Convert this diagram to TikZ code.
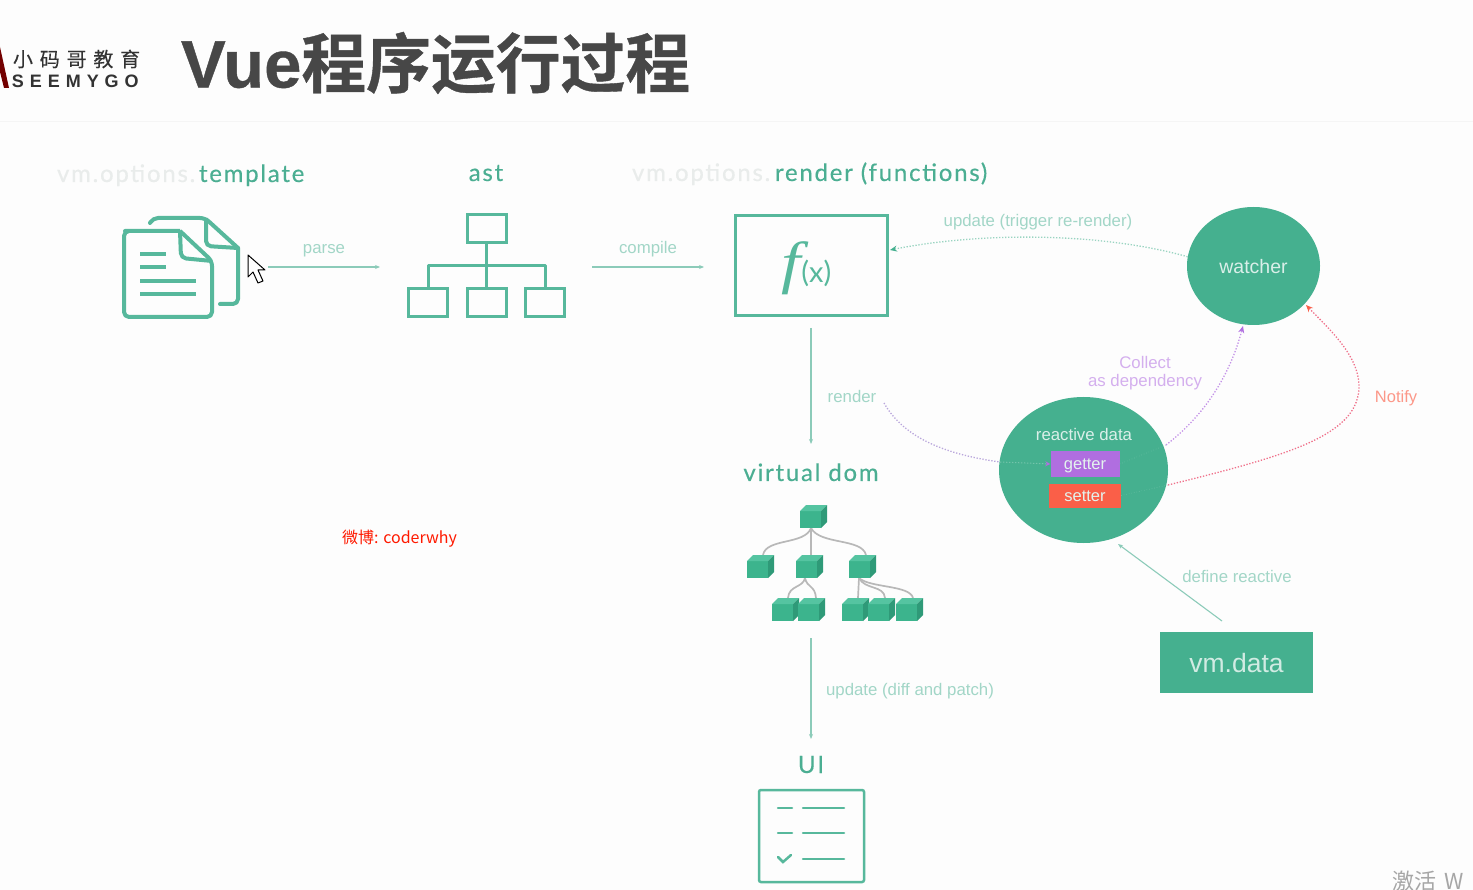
\documentclass[tikz,border=0pt]{standalone}
\usepackage{fontspec}
\setmainfont{Liberation Sans}
\newfontfamily\cjk{Noto Sans CJK SC}
\newfontfamily\cjkb[FakeBold=0.6]{Noto Sans CJK SC Bold}
\newfontfamily\titlefont[FakeBold=0.6]{Liberation Sans Bold}
\newfontfamily\cjkspaced[LetterSpace=34,FakeBold=0.3]{Noto Sans CJK SC}
\newfontfamily\headfont[LetterSpace=7.3,FakeBold=0.35]{Lato}
\newfontfamily\logofont[LetterSpace=33]{Liberation Sans}
\newfontfamily\fxserif{Liberation Serif Italic}
\newfontfamily\fxsans{Lato}
\usetikzlibrary{arrows.meta,shapes.geometric}
\definecolor{teal1}{HTML}{45B08F}
\definecolor{iconc}{HTML}{57B89C}
\definecolor{headc}{HTML}{4BAE92}
\definecolor{labc}{HTML}{A2D6C7}
\definecolor{arrc}{HTML}{8CCBB9}
\definecolor{ghost}{HTML}{E9ECEB}
\definecolor{purp}{HTML}{B06EE0}
\definecolor{coral}{HTML}{FA5F48}
\definecolor{pinkred}{HTML}{F0708A}
\definecolor{lav}{HTML}{B9A6DC}
\definecolor{cubef}{HTML}{3CB48D}
\definecolor{cubet}{HTML}{55C4A1}
\definecolor{cubes}{HTML}{2F9A78}
\definecolor{paper}{HTML}{FDFDFD}
\tikzset{
  x=1pt,y=-1pt,
  txt/.style={inner sep=0pt,outer sep=0pt},
  lab/.style={txt,text=labc,font=\fontsize{16.8}{20}\selectfont},
  head/.style={txt,text=headc,font=\fontsize{24}{26}\headfont},
  ghosted/.style={txt,text=ghost,font=\fontsize{24}{26}\headfont},
  flow/.style={draw=arrc,line width=1.1pt,-{Stealth[length=5pt,width=4pt]}},
  icon/.style={draw=iconc,line width=3pt,line join=round},
  docline/.style={draw=iconc,line width=4pt,line join=round},
  thin icon/.style={draw=iconc,line width=2.5pt,line cap=round},
  astbox/.style={draw=iconc,line width=3pt,minimum width=39pt,minimum height=28pt,inner sep=0pt},
  dot/.style={line width=1.3pt,dash pattern=on 1.3pt off 1.7pt},
  blob/.style={ellipse,fill=teal1,inner sep=0pt,text=white!80!teal1},
  cubebox/.style={fill=cubef,minimum width=21pt,minimum height=17pt,inner sep=0pt,outer sep=0pt},
  treeline/.style={draw=black!28,line width=1.7pt},
  tag/.style={inner sep=0pt,text=white!85!teal1,text height=13pt,text depth=2pt,font=\fontsize{16.5}{18}\selectfont}
}
\newcommand{\mycube}[3]{%
  \node[cubebox] (#1) at (#2+10.5,#3+8.5) {};
  \fill[cubet] (#1.north west) -- ++(6,-6) -- ++(21,0) -- (#1.north east) -- cycle;
  \fill[cubes] (#1.north east) -- ++(6,-6) -- ++(0,17) -- (#1.south east) -- cycle;
}
\begin{document}
\begin{tikzpicture}
\useasboundingbox (0,0) rectangle (1473,890);
\clip (0,0) rectangle (1473,890);
\fill[paper] (0,0) rectangle (1473,890);
\coordinate (hl) at (0,122); \coordinate (hr) at (1473,122);
\draw[black!4,line width=1pt] (hl) -- (hr);
% logo
\fill[red!45!black] (0,47) -- (9,88) -- (4,88) -- (0,72) -- cycle;
\node[txt,anchor=west,text=black!80] (logocn) at (13,59) {\fontsize{20}{22}\cjkspaced 小码哥教育};
\node[txt,anchor=west,text=black!80] (logoen) at (12,81) {\fontsize{18}{22}\logofont\bfseries SEEMYGO};
% title
\node[txt,anchor=west,text=black!72] (title) at (181,63) {\fontsize{67}{70}\titlefont Vue\fontsize{64.8}{70}\cjkb 程序运行过程};
% headings
\node[ghosted,anchor=base west] (g1) at (57,182) {vm.options.};
\node[head,anchor=base west] (h1) at (199,182) {template};
\node[head,anchor=base] (h2) at (486,181) {ast};
\node[ghosted,anchor=base west] (g3) at (632,181) {vm.options.};
\node[head,anchor=base west] (h3) at (775,181) {render (functions)};
\node[head,anchor=base] (h4) at (811,481) {virtual dom};
\node[head,anchor=base] (h5) at (811,773) {UI};
% document icon
\node[minimum width=116pt,minimum height=102pt,inner sep=0pt] (doc) at (181,268) {};
\draw[docline,rounded corners=5pt] (180,231) -- (130,231) -- (124,231) -- (124,317) -- (212,317) -- (212,261) [sharp corners] -- (180,231);
\draw[docline,rounded corners=5pt] (180,231) -- (181,258) -- (212,261);
\draw[docline,line cap=round,rounded corners=5pt] (150,223) -- (153,218) -- (205,218) [sharp corners] -- (238,248);
\draw[docline,line cap=round,rounded corners=5pt] (238,248) -- (238,304) -- (220,304);
\draw[docline,rounded corners=5pt] (206,218) -- (206,246) -- (238,248);
\foreach \a/\b/\c in {140/166/254,140/166/267,140/196/281,140/196/294}{\draw[docline] (\a,\c) -- (\b,\c);}
% cursor
\draw[fill=white,draw=black,line width=1pt,line join=round] (248,255) -- (248,277) -- (253,272) -- (258,283) -- (263,281) -- (258,270) -- (265,270) -- cycle;
% ast
\node[astbox] (a0) at (486.5,229) {};
\node[astbox] (a1) at (428,303) {};
\node[astbox] (a2) at (486.5,303) {};
\node[astbox] (a3) at (545,303) {};
\coordinate (bar) at (486.5,266);
\draw[icon] (a0.south) -- (a2.north);
\draw[icon] (a1.north) |- (bar) -| (a3.north);
% f box
\node[draw=iconc,line width=3pt,minimum width=152pt,minimum height=100pt,inner sep=0pt] (fbox) at (811,266) {};
\node[txt,text=iconc,anchor=west] (fx) at (781,268) {\fontsize{58}{58}\fxserif\scalebox{1.2}[1]{f}\kern1pt\fontsize{29}{29}\fxsans(x)};
% watcher
\node[blob,minimum width=133pt,minimum height=118pt,text height=16pt,text depth=0pt] (watcher) at (1253.5,266) {\fontsize{19.5}{22}\selectfont watcher};
% dotted curve that passes behind the reactive circle
\coordinate (rstart) at (884,403);
\coordinate (rw) at (1000,462);
\draw[dot,draw=lav] (rstart) .. controls (905,440) and (950,455) .. (rw);
% reactive
\node[blob,minimum width=169pt,minimum height=146pt] (react) at (1083.5,470) {};
\node[txt,text=white!80!teal1,font=\fontsize{16.8}{18}\selectfont] (rlab) at (1084,434) {reactive data};
\node[fill=purp,minimum width=69pt,minimum height=26pt,tag] (getter) at (1085,464) {getter};
\node[fill=coral,minimum width=72pt,minimum height=24pt,tag] (setter) at (1085,495.5) {setter};
% vm.data
\node[fill=teal1,minimum width=153pt,minimum height=61pt,inner sep=0pt,text=white!75!teal1,text height=20pt,text depth=0pt,font=\fontsize{26.5}{28}\selectfont] (vmdata) at (1236.5,662.5) {vm.data};
% virtual dom tree
\coordinate (t0) at (811,528);
\coordinate (t2) at (805,578);
\coordinate (t3) at (859,578);
\draw[treeline] (t0) .. controls (805,545) and (766,538) .. (763,555);
\draw[treeline] (t0) -- (811,555);
\draw[treeline] (t0) .. controls (820,545) and (862,538) .. (866,555);
\draw[treeline] (t2) .. controls (803,588) and (789,585) .. (788,598);
\draw[treeline] (t2) .. controls (807,588) and (815,585) .. (816,598);
\draw[treeline] (t3) -- (858,598);
\draw[treeline] (t3) .. controls (865,590) and (884,585) .. (885,598);
\draw[treeline] (t3) .. controls (870,588) and (910,585) .. (913,598);
\mycube{c0}{800}{511}
\mycube{c1}{747}{561}
\mycube{c2}{796}{561}
\mycube{c3}{849}{561}
\mycube{c4}{772}{604}
\mycube{c5}{798}{604}
\mycube{c6}{842}{604}
\mycube{c7}{868}{604}
\mycube{c8}{896}{604}
% UI icon
\node[draw=iconc,line width=2.5pt,rounded corners=2pt,minimum width=105pt,minimum height=92pt,inner sep=0pt] (uibox) at (811.5,836) {};
\foreach \y in {808,833,859}{\draw[thin icon] (803,\y) -- (844,\y);}
\foreach \y in {808,833}{\draw[thin icon] (778,\y) -- (792,\y);}
\draw[thin icon] (778,857) -- (783,862) -- (791,855);
% connector labels
\node[lab] (lparse) at (324,251) {parse};
\node[lab] (lcompile) at (648,249) {compile};
\node[lab] (lupd) at (1038,222) {update (trigger re-render)};
\node[lab] (lrender) at (852,396) {render};
\node[lab] (ldiff) at (910,691) {update (diff and patch)};
\node[lab] (ldef) at (1237,576) {define reactive};
\node[txt,text=purp!55!white,font=\fontsize{16.8}{17.5}\selectfont,align=center] (lcol) at (1145,373) {Collect\\as dependency};
\node[txt,text=coral!65!white,font=\fontsize{16.5}{18}\selectfont] (lnot) at (1396,398) {Notify};
\node[txt,text=red!80!orange,font=\fontsize{16}{20}\cjk] (weibo) at (399.5,539) {微博: coderwhy};
\node[txt,anchor=west,text=black!35,font=\fontsize{22}{24}\cjk] (wm) at (1392,881) {激活 \,W};
% connectors
\coordinate (p1) at (268,267); \coordinate (p2) at (380,267);
\coordinate (p3) at (592,267); \coordinate (p4) at (704,267);
\coordinate (p5) at (811,328); \coordinate (p6) at (811,444);
\coordinate (p7) at (811,638); \coordinate (p8) at (811,739);
\coordinate (p9) at (1222,621); \coordinate (p10) at (1118,544);
\draw[flow] (p1) -- (p2);
\draw[flow] (p3) -- (p4);
\draw[flow] (p5) -- (p6);
\draw[flow] (p7) -- (p8);
\draw[flow] (p9) -- (p10);
\coordinate (fin) at (890,250);
\coordinate (wn) at (1243,326);
\coordinate (wse) at (1306,305);
\coordinate (rn) at (1166,445);
\coordinate (rs) at (1168,485);
\draw[dot,draw=teal1!55,-{Stealth[length=7pt,width=6pt,color=teal1]}] (watcher.172) .. controls (1100,232) and (980,232) .. (fin);
\draw[dot,draw=teal1!75!white,line width=1pt,-{Stealth[length=5pt,width=5pt,color=purp]}] (rw) -- (getter.west);
\draw[dot,draw=purp!75,-{Stealth[length=7pt,width=6pt,color=purp]}] (rn) .. controls (1205,415) and (1230,375) .. (wn);
\draw[dot,draw=pinkred,-{Stealth[length=7pt,width=6pt,color=coral]}] (rs) .. controls (1290,455) and (1360,435) .. (1359,385) .. controls (1358,355) and (1330,330) .. (wse);
\draw[teal1!80!white,dotted,line width=.6pt] (getter.east) -- (rn);
\draw[teal1!80!white,dotted,line width=.6pt] (setter.east) -- (rs);
\end{tikzpicture}
\end{document}
